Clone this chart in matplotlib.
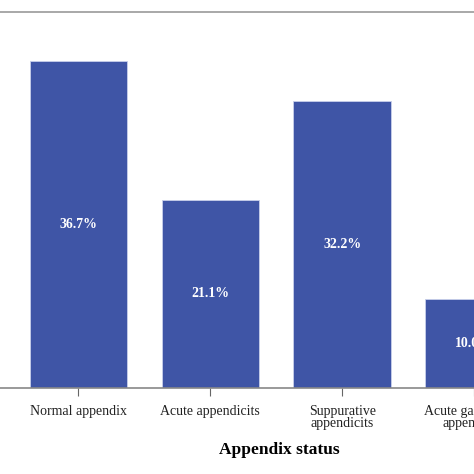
import matplotlib
matplotlib.use("Agg")
import matplotlib.pyplot as plt

categories = ["Normal appendix", "Acute appendicits", "Suppurative\nappendicits", "Acute gangrenous\nappendicits"]
values = [36.7, 21.1, 32.2, 10.0]
labels = ["36.7%", "21.1%", "32.2%", "10.0%"]

plt.rcParams['font.family'] = ['Liberation Serif', 'DejaVu Serif']
fig = plt.figure(figsize=(4.74, 4.74), dpi=100)
ax = fig.add_axes([0, 86/474, 1, (388-12)/474])
x = list(range(len(values)))
ax.bar(x, values, width=0.74, color="#3f55a6", edgecolor="#c8d0ea", linewidth=0.6)
for xi, v, l in zip(x, values, labels):
    ax.text(xi, v/2, l, ha="center", va="center", color="white", fontsize=10, fontweight="bold")
ax.set_xlim(-0.595, 2.838)
ax.set_ylim(0, 376/8.91)
ax.set_xticks(x)
ax.set_xticklabels(categories, fontsize=10, color="#222222", linespacing=0.95)
ax.tick_params(axis='x', length=6, pad=6, color="#666666")
ax.set_yticks([])
for s in ["left", "right"]:
    ax.spines[s].set_visible(False)
ax.spines["top"].set_color("#999999")
ax.spines["bottom"].set_color("#888888")
ax.spines["top"].set_linewidth(1.2)
ax.spines["bottom"].set_linewidth(1.2)
fig.text(0.59, 1 - 450/474, "Appendix status", ha="center", va="center", fontsize=12.5, fontweight="bold")
fig.savefig("out.png", dpi=100)
